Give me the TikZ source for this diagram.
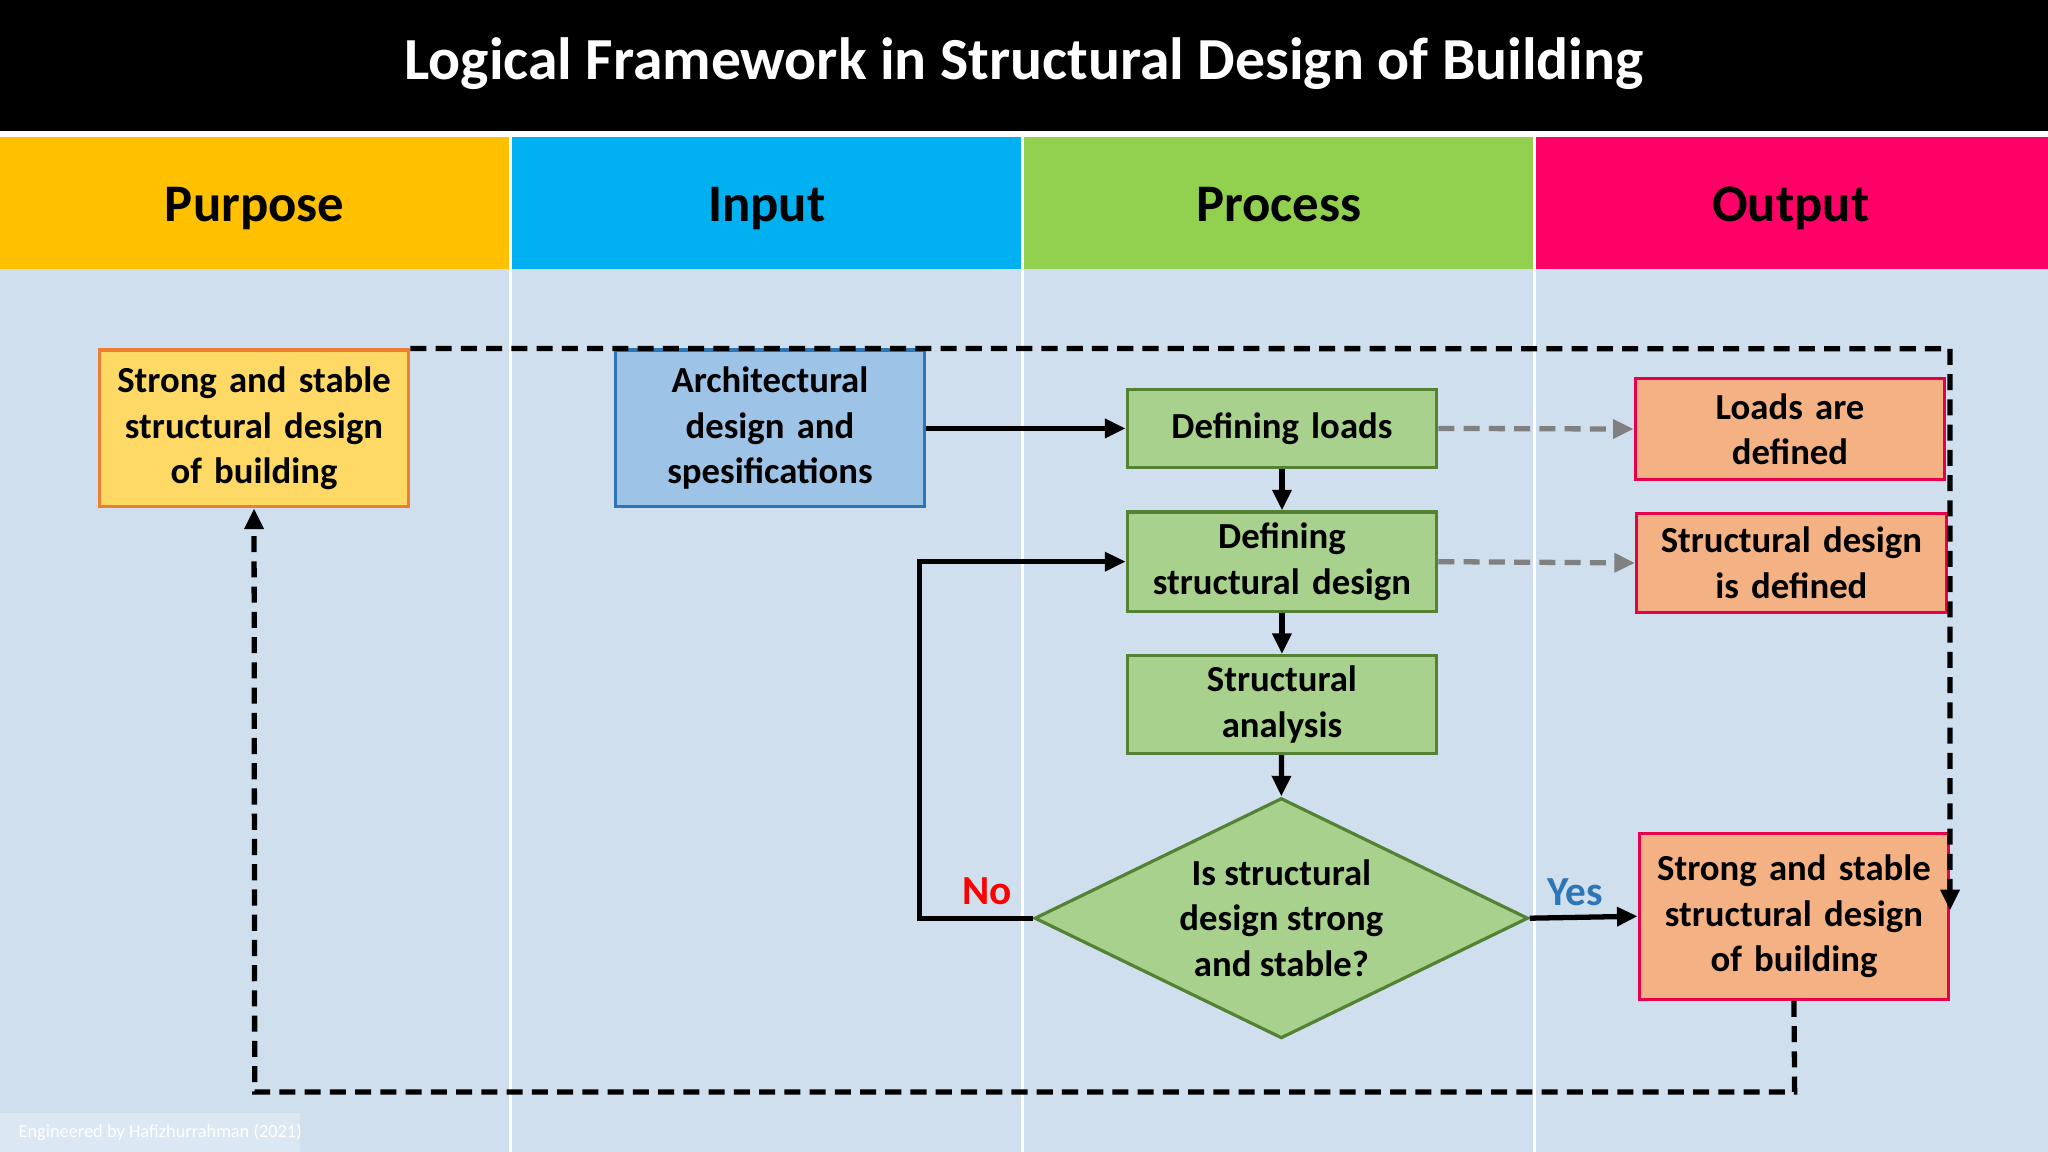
\documentclass[tikz,border=0pt]{standalone}
\usepackage{fontspec}
\setmainfont{Carlito}
\usetikzlibrary{arrows.meta,shapes.geometric}
\definecolor{bg}{HTML}{D0DFEE}
\definecolor{pfill}{HTML}{FFD966}\definecolor{pdraw}{HTML}{ED7D31}
\definecolor{ifill}{HTML}{9DC3E6}\definecolor{idraw}{HTML}{2E75B6}
\definecolor{gfill}{HTML}{A9D18E}\definecolor{gdraw}{HTML}{548235}
\definecolor{ofill}{HTML}{F4B183}\definecolor{odraw}{HTML}{E6004C}
\definecolor{hP}{HTML}{FFC000}\definecolor{hI}{HTML}{00B0F0}
\definecolor{hR}{HTML}{92D050}\definecolor{hO}{HTML}{FF0066}
\tikzset{
 box/.style={draw, line width=1.4pt, align=center, inner sep=0pt, font=\bfseries\fontsize{16}{19.8}\selectfont},
 bw/.style={minimum width=4.74cm, text width=4.6cm},
 hdr/.style={font=\bfseries\fontsize{23}{26}\selectfont, text height=16pt, text depth=5pt},
 arr/.style={line width=2.3pt, -{Triangle[length=9pt,width=8pt]}},
 garr/.style={line width=2.3pt, gray, dash pattern=on 7pt off 4pt, -{Triangle[length=9pt,width=8pt]}},
 darr/.style={line width=2.3pt, dash pattern=on 7pt off 4pt, -{Triangle[length=9pt,width=8pt]}}
}
\begin{document}
\begin{tikzpicture}[x=0.02cm,y=-0.02cm]
\fill[white] (0,0) rectangle (1568,882);
\fill[bg] (0,206) rectangle (1568,882);
\fill[black] (0,0) rectangle (1568,100);
\node[white, font=\bfseries\fontsize{26}{30}\selectfont] (title) at (784,49) {Logical Framework in Structural Design of Building};
\fill[hP] (0,105) rectangle (390,206);
\fill[hI] (392,105) rectangle (782,206);
\fill[hR] (784,105) rectangle (1174,206);
\fill[hO] (1176,105) rectangle (1568,206);
\foreach \x in {391,783,1175} \fill[white] (\x-1,206) rectangle (\x+1,882);
\node[hdr] (h1) at (195,160) {Purpose};
\node[hdr] (h2) at (587,160) {Input};
\node[hdr] (h3) at (979,160) {Process};
\node[hdr] (h4) at (1371,160) {Output};
\fill[white, opacity=0.25] (0,852) rectangle (230,882);
\node[white, font=\fontsize{8}{9}\selectfont, anchor=west] (foot) at (8,867) {Engineered by Hafizhurrahman (2021)};

\node[box,bw,fill=pfill,draw=pdraw,minimum height=2.4cm] (p) at (194.5,328) {Strong and stable\\structural design\\of building};
\node[box,bw,fill=ifill,draw=idraw,minimum height=2.4cm] (a) at (589.5,328) {Architectural\\design and\\spesifications};
\node[box,bw,fill=gfill,draw=gdraw,minimum height=1.2cm] (l) at (981.5,328) {Defining loads};
\node[box,bw,fill=gfill,draw=gdraw,minimum height=1.52cm] (s) at (981.5,430) {Defining\\structural design};
\node[box,bw,fill=gfill,draw=gdraw,minimum height=1.5cm] (an) at (981.5,539.5) {Structural\\analysis};
\node[box,diamond,aspect=2.05,fill=gfill,draw=gdraw,minimum width=7.56cm,minimum height=3.68cm] (d) at (981,703) {Is structural\\design strong\\and stable?};
\node[box,bw,fill=ofill,draw=odraw,minimum height=1.54cm] (o1) at (1370.5,328.5) {Loads are\\defined};
\node[box,bw,fill=ofill,draw=odraw,minimum height=1.52cm] (o2) at (1371.5,431) {Structural design\\is defined};
\node[box,bw,fill=ofill,draw=odraw,minimum height=2.54cm] (o3) at (1373.5,701.5) {Strong and stable\\structural design\\of building};

\draw[arr] (a.east) -- (l.west);
\draw[arr] (l) -- (s);
\draw[arr] (s) -- (an);
\draw[arr] (an) -- (d.north);
\draw[arr] (d.west) -- (704,703) -- (704,430) -- (s.west);
\draw[arr] (d.east) -- (o3.west);
\node[red, font=\bfseries\fontsize{18}{20}\selectfont] (no) at (756,682) {No};
\node[idraw, font=\bfseries\fontsize{18}{20}\selectfont] (yes) at (1206,683) {Yes};
\draw[garr] (l.east) -- (o1.west);
\draw[garr] (s.east) -- (o2.west);
\draw[darr] (o3.south) -- (1374,836) -- (195,836) -- (p.south);
\draw[darr] (p.north east) -- (1493,267) -- (1493,697);
\end{tikzpicture}
\end{document}
